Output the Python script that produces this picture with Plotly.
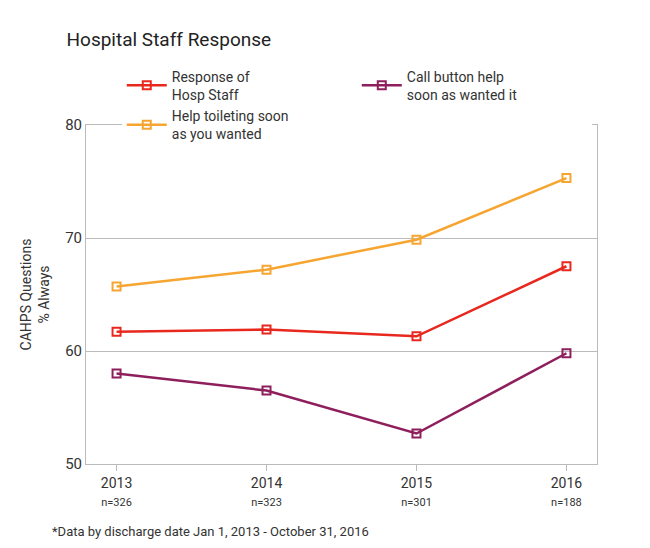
import plotly.graph_objects as go

years = ["2013", "2014", "2015", "2016"]
ns = ["n=326", "n=323", "n=301", "n=188"]
response_staff = [61.7, 61.9, 61.3, 67.5]
call_button = [58.0, 56.5, 52.7, 59.8]
toileting = [65.7, 67.2, 69.85, 75.3]

names = ["Response of<br>Hosp Staff", "Call button help<br>soon as wanted it", "Help toileting soon<br>as you wanted"]
colors = ["#e8281e", "#8e1f5c", "#f7a531"]
series = [response_staff, call_button, toileting]

ticktext = [f"{y}<br><span style='font-size:11px'>{n}</span>" for y, n in zip(years, ns)]

fig = go.Figure()
for nm, c, s in zip(names, colors, series):
    fig.add_trace(go.Scatter(x=years, y=s, name=nm, mode="lines+markers",
                             line=dict(color=c, width=2.5),
                             marker=dict(symbol="square-open", size=8, color=c, line=dict(width=2))))

fig.update_layout(
    width=650, height=548, plot_bgcolor="white", paper_bgcolor="white",
    font=dict(family="Roboto", color="#333", size=13),
    margin=dict(l=78, r=61, t=117, b=92, autoexpand=False),
    title=dict(text="Hospital Staff Response", x=0.09, y=0.955, xanchor="left",
               font=dict(size=19, color="#222")),
    legend=dict(orientation="h", x=0.07, y=1.19, xanchor="left", yanchor="top",
                font=dict(size=14, color="#333"), entrywidth=180, itemwidth=40),
    showlegend=True,
)
fig.update_xaxes(type="category", tickvals=years, ticktext=ticktext, showline=True,
                 linecolor="#bbb", mirror=True, ticks="outside", ticklen=6, tickcolor="#bbb",
                 showgrid=False, tickfont=dict(size=14))
fig.update_yaxes(range=[50, 80], tickvals=[50, 60, 70, 80], showline=True, linecolor="#bbb",
                 mirror=True, gridcolor="#bbb", ticks="", tickfont=dict(size=15),
                 title=dict(text="CAHPS Questions<br>% Always", font=dict(size=14), standoff=12))
fig.add_annotation(text="*Data by discharge date Jan 1, 2013 - October 31, 2016",
                   xref="paper", yref="paper", x=-0.07, y=-0.17, xanchor="left", yanchor="top",
                   showarrow=False, font=dict(size=13, color="#333"))
fig.write_html("out.html")
